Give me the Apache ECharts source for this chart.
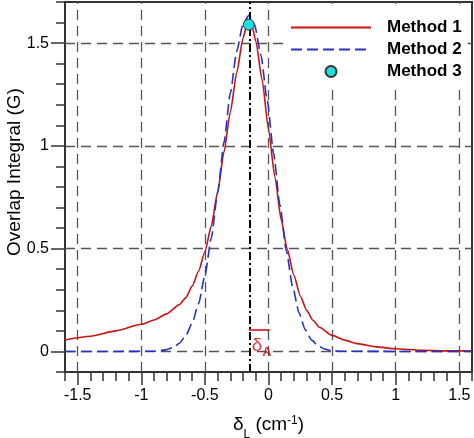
<!DOCTYPE html>
<html>
<head>
<meta charset="utf-8">
<script src="https://cdn.jsdelivr.net/npm/echarts@6/dist/echarts.min.js"></script>
<style>html,body{margin:0;padding:0;background:#fff}#c{width:474px;height:438px}</style>
</head>
<body>
<div id="c"></div>
<script>
// ---- data ----
const method1X = [-1.6, -1.4, -1.2, -1.0, -0.9, -0.8, -0.7, -0.65, -0.6, -0.55, -0.5, -0.45, -0.4, -0.35, -0.3, -0.25, -0.2, -0.17, -0.155, -0.13, -0.1, -0.05, 0.0, 0.05, 0.1, 0.146, 0.2, 0.25, 0.3, 0.35, 0.4, 0.5, 0.6, 0.7, 0.85, 1.0, 1.2, 1.4, 1.6];
const method1Y = [0.056, 0.074, 0.1, 0.132, 0.153, 0.183, 0.228, 0.262, 0.318, 0.39, 0.485, 0.61, 0.775, 0.97, 1.165, 1.355, 1.525, 1.59, 1.61, 1.585, 1.51, 1.32, 1.08, 0.85, 0.64, 0.5, 0.37, 0.27, 0.2, 0.152, 0.118, 0.078, 0.055, 0.038, 0.022, 0.013, 0.006, 0.003, 0.002];
const method2X = [-1.6, -1.2, -0.9, -0.85, -0.8, -0.75, -0.7, -0.65, -0.6, -0.55, -0.5, -0.45, -0.4, -0.35, -0.3, -0.25, -0.2, -0.155, -0.11, -0.06, -0.01, 0.04, 0.09, 0.14, 0.19, 0.24, 0.29, 0.34, 0.39, 0.44, 0.49, 0.55, 1.0, 1.6];
const method2Y = [0, 0, 0.001, 0.004, 0.009, 0.019, 0.04, 0.077, 0.138, 0.232, 0.369, 0.551, 0.772, 1.017, 1.257, 1.46, 1.594, 1.635, 1.59, 1.443, 1.222, 0.965, 0.712, 0.49, 0.314, 0.188, 0.105, 0.055, 0.027, 0.012, 0.005, 0.001, 0, 0];
const method3X = [-0.155];
const method3Y = [1.59];
const peakLineX = -0.155;
const deltaAX = [-0.155, 0.01];
const deltaAY = 0.107;
const xMajorTicks = [-1.5, -1, -0.5, 0, 0.5, 1, 1.5];
const yMajorTicks = [0, 0.5, 1, 1.5];
const xRange = [-1.6, 1.6];
const yRange = [-0.1, 1.7];
const seriesNames = ['Method 1', 'Method 2', 'Method 3'];

const FONT = "'Liberation Sans', Arial, sans-serif";
const zip = (xs, ys) => xs.map((x, i) => [x, ys[i]]);
const majorFmt = v => {
  const t = Math.round(v * 10);
  if (Math.abs(t % 5) !== 0) return '';
  const r = t / 10;
  return String(r === 0 ? 0 : r);
};
const axisColor = '#333';
const RED = '#cc1111';
const BLUE = '#2233cc';

const chart = echarts.init(document.getElementById('c'), null, {renderer: 'canvas'});
chart.setOption({
  animation: false,
  backgroundColor: '#fff',
  grid: {left: 65, top: 2, width: 407, height: 370, show: true, borderColor: axisColor, borderWidth: 2,
         backgroundColor: 'transparent', containLabel: false, outerBoundsMode: 'none'},
  legend: {
    z: 20,
    data: [
      {name: seriesNames[0], itemStyle: {opacity: 0}},
      {name: seriesNames[1], itemStyle: {opacity: 0}},
      {name: seriesNames[2]}
    ],
    orient: 'vertical', left: 284, top: 9,
    padding: [10, 6, 8, 6], backgroundColor: '#fff',
    itemWidth: 80, itemHeight: 11, itemGap: 5, selectedMode: false,
    textStyle: {fontSize: 17, fontWeight: 'bold', color: '#000', fontFamily: FONT, padding: [0, 0, 0, 11]}
  },
  xAxis: [{
    type: 'value', min: xRange[0], max: xRange[1], interval: 0.1, position: 'bottom',
    axisLine: {onZero: false, lineStyle: {color: axisColor, width: 2}},
    axisTick: {length: 9, lineStyle: {color: axisColor, width: 1.5}},
    axisLabel: {formatter: majorFmt, fontSize: 16, color: '#000', margin: 16, fontFamily: FONT},
    splitLine: {show: false},
    name: '{g|δ}{s|L}{g| (cm}{p|-1}{g|)}', nameLocation: 'middle', nameGap: 43, nameMoveOverlap: false,
    nameTextStyle: {rich: {
      g: {fontSize: 19, color: '#000', fontFamily: FONT, verticalAlign: 'top'},
      s: {fontSize: 12, color: '#000', fontFamily: FONT, verticalAlign: 'top', padding: [14, 0, 0, 0]},
      p: {fontSize: 12, color: '#000', fontFamily: FONT, verticalAlign: 'top'}
    }}
  }, {
    type: 'value', min: xRange[0], max: xRange[1], position: 'top', offset: -370,
    axisLine: {show: false, onZero: false},
    axisTick: {inside: true, length: 13, customValues: xMajorTicks, lineStyle: {color: axisColor, width: 1.5}},
    axisLabel: {show: false}, splitLine: {show: false}
  }],
  yAxis: [{
    type: 'value', min: yRange[0], max: yRange[1], interval: 0.1, position: 'left',
    axisLine: {onZero: false, lineStyle: {color: axisColor, width: 2}},
    axisTick: {length: 9, lineStyle: {color: axisColor, width: 1.5}},
    axisLabel: {formatter: majorFmt, fontSize: 16, color: '#000', margin: 16, fontFamily: FONT},
    splitLine: {show: false},
    name: 'Overlap Integral (G)', nameLocation: 'middle', nameGap: 41, nameMoveOverlap: false,
    nameTextStyle: {fontSize: 19, color: '#000', fontFamily: FONT, padding: [0, 0, 0, 30]}
  }, {
    type: 'value', min: yRange[0], max: yRange[1], position: 'right', offset: -407,
    axisLine: {show: false, onZero: false},
    axisTick: {inside: true, length: 14, customValues: yMajorTicks, lineStyle: {color: axisColor, width: 1.5}},
    axisLabel: {show: false}, splitLine: {show: false}
  }],
  series: [
    {
      name: 'grid', type: 'line', data: [], z: 1, silent: true,
      markLine: {
        z: 1,
        silent: true, symbol: ['none', 'none'], label: {show: false}, animation: false,
        lineStyle: {color: '#555', width: 1.3, type: [10, 6]},
        data: xMajorTicks.map(v => ({xAxis: v})).concat(yMajorTicks.map(v => ({yAxis: v})))
      }
    },
    {
      name: 'Method 1', type: 'line', data: zip(method1X, method1Y), symbol: 'none',
      smooth: 0.2, smoothMonotone: 'x', z: 3,
      lineStyle: {color: RED, width: 1.6}, itemStyle: {color: RED}
    },
    {
      name: 'Method 2', type: 'line', data: zip(method2X, method2Y), symbol: 'none',
      smooth: 0.2, smoothMonotone: 'x', z: 3,
      lineStyle: {color: BLUE, width: 1.6, type: [11, 5]}, itemStyle: {color: BLUE}
    },
    {
      name: 'marks', type: 'line', data: [], z: 4, silent: true,
      markLine: {
        z: 4,
        silent: true, symbol: ['none', 'none'], label: {show: false}, animation: false,
        data: [
          {xAxis: peakLineX, lineStyle: {color: '#000', width: 2, type: [8, 3, 2, 3]}},
          [{coord: [deltaAX[0], deltaAY], lineStyle: {color: RED, width: 1.6, type: 'solid'}}, {coord: [deltaAX[1], deltaAY]}]
        ]
      }
    },
    {
      name: 'Method 3', type: 'scatter', data: zip(method3X, method3Y), symbolSize: 11, z: 5,
      itemStyle: {color: '#22dddd', borderColor: '#333', borderWidth: 1, opacity: 1}
    },
    {
      name: 'deltaA', type: 'scatter', data: [[deltaAX[0], deltaAY]], symbolSize: 0, z: 5, silent: true,
      label: {
        show: true, position: [3, 7], formatter: '{d|δ}{a|A}',
        rich: {
          d: {fontSize: 19, color: RED, fontFamily: FONT, verticalAlign: 'top'},
          a: {fontSize: 13, fontWeight: 'bold', color: RED, fontFamily: FONT, verticalAlign: 'top', padding: [9, 0, 0, 0]}
        }
      }
    }
  ]
});
</script>
</body>
</html>
